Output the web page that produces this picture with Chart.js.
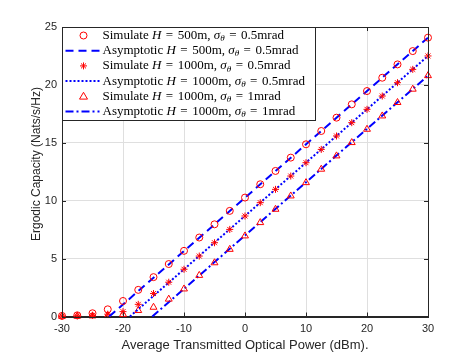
<!DOCTYPE html>
<html><head><meta charset="utf-8">
<script src="https://cdn.jsdelivr.net/npm/chart.js@4.4.1/dist/chart.umd.min.js"></script>
<style>html,body{margin:0;padding:0;background:#fff;}#wrap{width:474px;height:355px;}</style>
</head><body><div id="wrap"><canvas id="c" width="474" height="355"></canvas></div>
<script>
const powerDbm = [-30,-27.5,-25,-22.5,-20,-17.5,-15,-12.5,-10,-7.5,-5,-2.5,0,2.5,5,7.5,10,12.5,15,17.5,20,22.5,25,27.5,30];
const simH500s05 = [0.05,0.1,0.28,0.62,1.34,2.3,3.4,4.53,5.67,6.82,7.96,9.12,10.27,11.42,12.57,13.72,14.87,16.02,17.17,18.32,19.47,20.62,21.77,22.92,24.08];
const simH1000s05 = [0.03,0.05,0.1,0.2,0.42,1.05,1.98,2.96,4.08,5.22,6.37,7.52,8.68,9.83,10.98,12.13,13.28,14.43,15.59,16.74,17.89,19.04,20.19,21.34,22.5];
const simH1000s1 = [0.02,0.03,0.05,0.08,0.18,0.52,0.8,1.5,2.38,3.55,4.64,5.8,6.96,8.11,9.26,10.41,11.56,12.72,13.87,15.02,16.17,17.32,18.48,19.63,20.8];
const asymPowerH500s05 = [-22.26, 30];
const asymH500s05 = [0, 24.08];
const asymPowerH1000s05 = [-18.86, 30];
const asymH1000s05 = [0, 22.5];
const asymPowerH1000s1 = [-15.2, 30];
const asymH1000s1 = [0, 20.8];
const xTicks = [-30,-20,-10,0,10,20,30];
const yTicks = [0,5,10,15,20,25];
const legendKind = ['Simulate','Asymptotic','Simulate','Asymptotic','Simulate','Asymptotic'];
const legendH = ['500','500','1000','1000','1000','1000'];
const legendSigma = ['0.5','0.5','0.5','0.5','1','1'];
const yTitle = 'Ergodic Capacity (Nats/s/Hz)';
const xTitle = 'Average Transmitted Optical Power (dBm).';

const pts = (xs, ys) => xs.map((x, i) => ({x, y: ys[i]}));
const RED = '#ff0000', BLUE = '#0000ff', AX = '#262626';

const simStyle = (style, r) => ({type:'scatter', showLine:false, pointStyle:style, pointRadius:r, pointHoverRadius:r,
  pointBorderColor:RED, pointBackgroundColor:'rgba(0,0,0,0)', pointBorderWidth:1, borderColor:RED, clip:false});
const lineStyle = (dash) => ({type:'scatter', showLine:true, pointRadius:0, borderColor:BLUE, borderWidth:2, borderDash:dash, clip:false});

const datasets = [
  Object.assign({data: pts(powerDbm, simH500s05)}, simStyle('circle', 3.5)),
  Object.assign({data: pts(asymPowerH500s05, asymH500s05)}, lineStyle([8,5])),
  Object.assign({data: pts(powerDbm, simH1000s05)}, simStyle('star', 3.5)),
  Object.assign({data: pts(asymPowerH1000s05, asymH1000s05)}, lineStyle([2,2])),
  Object.assign({data: pts(powerDbm, simH1000s1)}, simStyle('triangle', 4)),
  Object.assign({data: pts(asymPowerH1000s1, asymH1000s1)}, lineStyle([8,3,2,3])),
];

function drawMarker(ctx, style, r, x, y) {
  ctx.save(); ctx.strokeStyle = RED; ctx.lineWidth = 1; ctx.beginPath();
  if (style === 'circle') { ctx.arc(x, y, r, 0, Math.PI*2); }
  else if (style === 'star') {
    for (let k = 0; k < 4; k++) { const a = k*Math.PI/4; ctx.moveTo(x - r*Math.cos(a), y - r*Math.sin(a)); ctx.lineTo(x + r*Math.cos(a), y + r*Math.sin(a)); }
  } else if (style === 'triangle') {
    ctx.moveTo(x, y - r); ctx.lineTo(x + r, y + r*0.7); ctx.lineTo(x - r, y + r*0.7); ctx.closePath();
  }
  ctx.stroke(); ctx.restore();
}

function drawMath(ctx, x, y, parts, size) {
  for (const p of parts) {
    const fs = p.sub ? size*0.7 : size;
    ctx.font = (p.i ? 'italic ' : '') + fs + 'px "Liberation Serif", "DejaVu Serif", serif';
    x += p.pad || 0;
    ctx.fillText(p.t, x, y + (p.sub ? size*0.25 : 0));
    x += ctx.measureText(p.t).width + (p.pad || 0);
  }
}

const framePlugin = {
  id: 'frame',
  afterDraw(chart) {
    const {ctx, chartArea: a, scales} = chart;
    ctx.save();
    ctx.strokeStyle = AX; ctx.lineWidth = 1;
    ctx.strokeRect(Math.round(a.left)+0.5, Math.round(a.top)+0.5, Math.round(a.right - a.left), Math.round(a.bottom - a.top));
    ctx.beginPath();
    const tl = 4;
    for (const v of xTicks) { const px = Math.round(scales.x.getPixelForValue(v)) + 0.5;
      ctx.moveTo(px, a.bottom); ctx.lineTo(px, a.bottom - tl); ctx.moveTo(px, a.top); ctx.lineTo(px, a.top + tl); }
    for (const v of yTicks) { const py = Math.round(scales.y.getPixelForValue(v)) + 0.5;
      ctx.moveTo(a.left, py); ctx.lineTo(a.left + tl, py); ctx.moveTo(a.right, py); ctx.lineTo(a.right - tl, py); }
    ctx.stroke();
    // y title
    ctx.save();
    ctx.translate(37, 164); ctx.rotate(-Math.PI/2);
    ctx.fillStyle = AX; ctx.textAlign = 'center'; ctx.textBaseline = 'middle';
    ctx.font = '12px "Liberation Sans", Arial, sans-serif';
    ctx.fillText(yTitle, 0, 0);
    ctx.restore();
    // legend
    const lx = Math.round(a.left) + 0.5, ly = Math.round(a.top) + 0.5, lw = 253, lh = 93;
    ctx.fillStyle = '#fff'; ctx.fillRect(lx, ly, lw, lh);
    ctx.strokeStyle = AX; ctx.strokeRect(lx, ly, lw, lh);
    ctx.textBaseline = 'middle'; ctx.textAlign = 'left'; ctx.fillStyle = '#000';
    chart.data.datasets.forEach((ds, i) => {
      const ry = ly + 8 + i*15.2;
      if (ds.showLine) {
        ctx.save(); ctx.strokeStyle = ds.borderColor; ctx.lineWidth = ds.borderWidth; ctx.setLineDash(ds.borderDash);
        ctx.beginPath(); ctx.moveTo(lx + 3, ry); ctx.lineTo(lx + 37, ry); ctx.stroke(); ctx.restore();
      } else {
        drawMarker(ctx, ds.pointStyle, ds.pointRadius, lx + 21, ry);
      }
      const parts = [{t: legendKind[i] + ' '}, {t: 'H', i: true}, {t: '=', pad: 4.5}, {t: legendH[i] + 'm, '},
        {t: 'σ', i: true}, {t: 'θ', i: true, sub: true}, {t: '=', pad: 4.5}, {t: legendSigma[i] + 'mrad'}];
      ctx.fillStyle = '#000';
      drawMath(ctx, lx + 40, ry, parts, 13);
    });
    ctx.restore();
  }
};

new Chart(document.getElementById('c'), {
  type: 'scatter',
  data: {datasets},
  options: {
    responsive: false, devicePixelRatio: 1, animation: false,
    layout: {padding: {left: 0, top: 27, right: 46, bottom: 0}},
    plugins: {legend: {display: false}, tooltip: {enabled: false}},
    scales: {
      x: {type: 'linear', min: -30, max: 30,
        afterBuildTicks: s => { s.ticks = xTicks.map(v => ({value: v})); },
        afterFit: s => { s.height = 38.5; },
        grid: {color: '#dfdfdf', drawTicks: false},
        border: {color: AX},
        ticks: {padding: 6, color: AX, font: {family: '"Liberation Sans", Arial, sans-serif', size: 11}},
        title: {display: true, text: xTitle, color: AX, padding: {top: 0, bottom: 2},
          font: {family: '"Liberation Sans", Arial, sans-serif', size: 13}}
      },
      y: {type: 'linear', min: 0, max: 25,
        afterBuildTicks: s => { s.ticks = yTicks.map(v => ({value: v})); },
        afterFit: s => { s.width = 62; },
        grid: {color: '#dfdfdf', drawTicks: false},
        border: {color: AX},
        ticks: {padding: 5, color: AX, font: {family: '"Liberation Sans", Arial, sans-serif', size: 11}},
        title: {display: false}
      }
    }
  },
  plugins: [framePlugin]
});
</script></body></html>
